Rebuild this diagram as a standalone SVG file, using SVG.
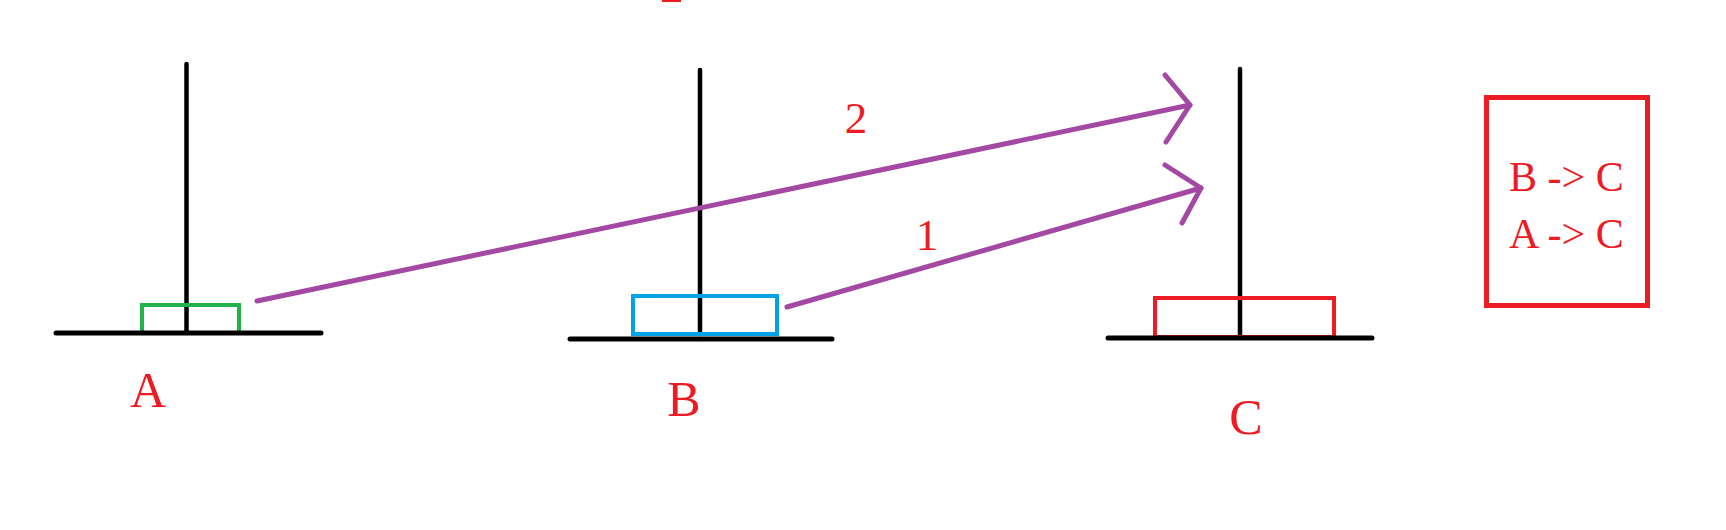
<svg xmlns="http://www.w3.org/2000/svg" width="1726" height="530" viewBox="0 0 1726 530">
<style>
.pole{stroke:#000;stroke-width:4.5;fill:none;stroke-linecap:round}
.base{stroke:#000;stroke-width:5;fill:none;stroke-linecap:round}
.disk{fill:none;stroke-width:4}
.arrow{stroke:#A349A4;stroke-width:5;fill:none;stroke-linecap:round;stroke-linejoin:round}
.lbl{font-family:"Liberation Serif","Times New Roman",serif;fill:#ED1C24}
</style>
<rect width="1726" height="530" fill="#fff"/>
<rect x="662" y="0" width="19" height="2" fill="#ED1C24"/>
<g id="tower-A">
  <line class="pole" x1="186.5" y1="64" x2="186.5" y2="331"/>
  <polyline class="disk" stroke="#22B14C" points="142,331 142,305 239,305 239,331"/>
  <line class="base" x1="56" y1="333" x2="321" y2="333"/>
  <text class="lbl" x="148" y="407" font-size="50" text-anchor="middle">A</text>
</g>
<g id="tower-B">
  <line class="pole" x1="700" y1="70" x2="700" y2="334"/>
  <rect class="disk" stroke="#00A2E8" x="633" y="296" width="144" height="38"/>
  <line class="base" x1="570" y1="339" x2="832" y2="339"/>
  <text class="lbl" x="684" y="416" font-size="50" text-anchor="middle">B</text>
</g>
<g id="tower-C">
  <line class="pole" x1="1240" y1="69" x2="1240" y2="336"/>
  <rect class="disk" stroke="#ED1C24" stroke-width="4.5" x="1155" y="298" width="179" height="39"/>
  <line class="base" x1="1108" y1="338" x2="1372" y2="338"/>
  <text class="lbl" x="1246" y="434" font-size="50" text-anchor="middle">C</text>
</g>
<g id="moves-box">
  <rect x="1486.5" y="97.5" width="161" height="208" fill="none" stroke="#ED1C24" stroke-width="5"/>
  <text class="lbl" x="1509" y="191" font-size="42">B -&gt; C</text>
  <text class="lbl" x="1509" y="248" font-size="42">A -&gt; C</text>
</g>
<g id="connectors">
  <g id="move-2">
    <line class="arrow" x1="257" y1="301" x2="1190" y2="105"/>
    <polyline class="arrow" points="1165,75 1190,105 1166,142"/>
    <text class="lbl" x="856" y="133" font-size="45" text-anchor="middle">2</text>
  </g>
  <g id="move-1">
    <line class="arrow" x1="787" y1="307" x2="1201" y2="188"/>
    <polyline class="arrow" points="1165,165 1201,188 1182,223"/>
    <text class="lbl" x="927" y="250" font-size="45" text-anchor="middle">1</text>
  </g>
</g>
</svg>
